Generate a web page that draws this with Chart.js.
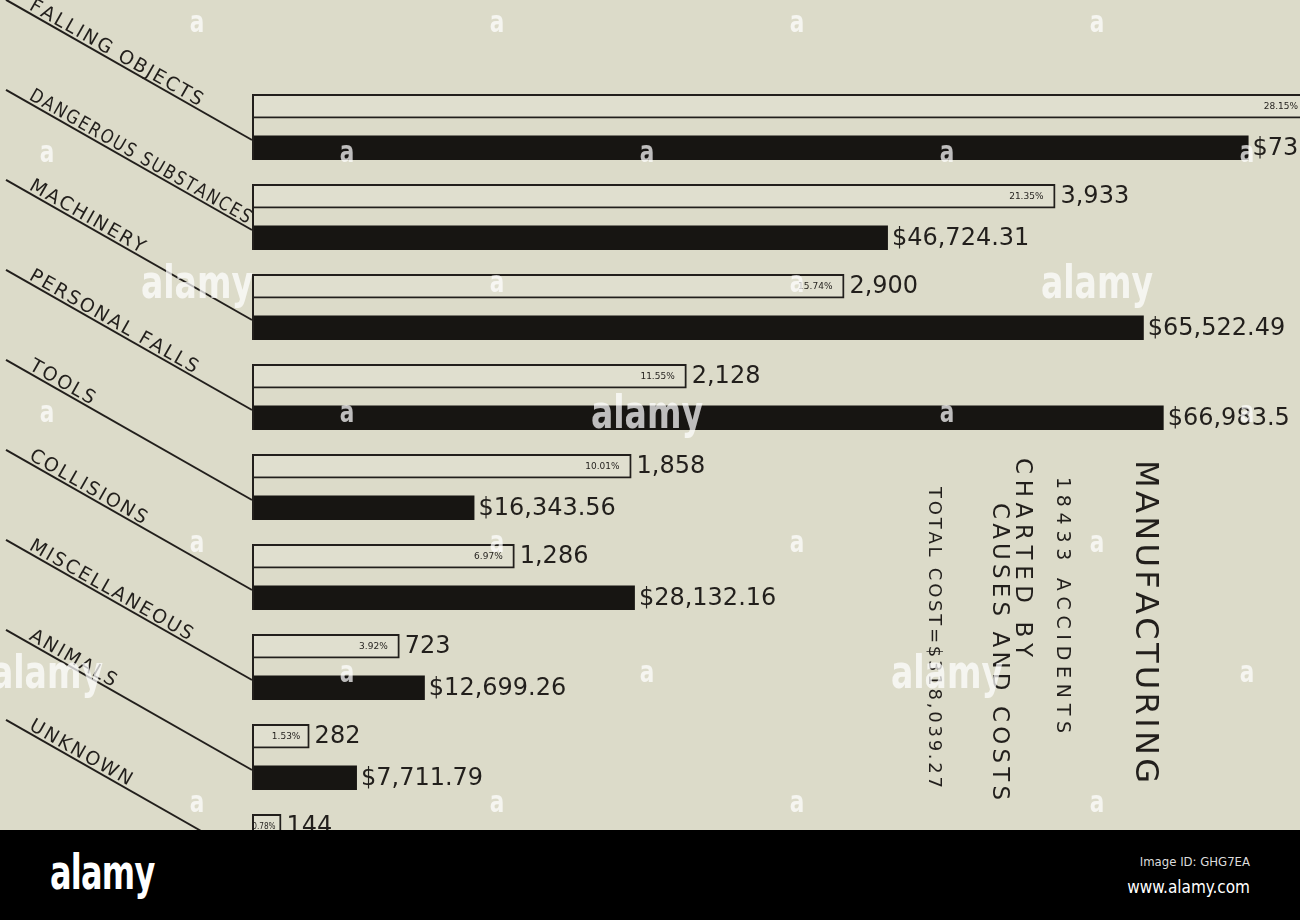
<!DOCTYPE html>
<html>
<head>
<meta charset="utf-8">
<title>Manufacturing accidents by causes and costs</title>
<script src="https://cdn.jsdelivr.net/npm/chart.js@4.4.0/dist/chart.umd.min.js"></script>
<style>
  html, body { margin: 0; padding: 0; background: #dcdbc9; }
  #wrap { position: relative; width: 1300px; height: 920px; overflow: hidden; background: #dcdbc9; }
  #chart { position: absolute; left: 0; top: 0; }
  .wm { position: absolute; color: rgba(255,255,255,0.72); font-family: "DejaVu Sans Condensed", "DejaVu Sans", sans-serif;
        font-weight: bold; line-height: 1; white-space: nowrap; transform: translate(-50%, -50%) scaleX(0.8); }
  #band { position: absolute; left: 0; top: 830px; width: 1300px; height: 90px; background: #000; }
  #logo { position: absolute; left: 50px; top: 14px; color: #fff; font: bold 48px "DejaVu Sans Condensed", "DejaVu Sans", sans-serif;
          transform: scaleX(0.74); transform-origin: left top; letter-spacing: -1px; }
  #imgid { position: absolute; right: 50px; top: 24px; color: #ddd; font: 13px "DejaVu Sans Condensed", "DejaVu Sans", sans-serif; }
  #site { position: absolute; right: 50px; top: 47px; color: #fff; font: 17px "DejaVu Sans Condensed", "DejaVu Sans", sans-serif; }
</style>
</head>
<body>
<div id="wrap">
  <canvas id="chart" width="1300" height="920"></canvas>
  <div id="band">
    <div id="logo">alamy</div>
    <div id="imgid">Image ID: GHG7EA</div>
    <div id="site">www.alamy.com</div>
  </div>
</div>
<script>
var causes = ["FALLING OBJECTS", "DANGEROUS SUBSTANCES", "MACHINERY", "PERSONAL FALLS", "TOOLS",
              "COLLISIONS", "MISCELLANEOUS", "ANIMALS", "UNKNOWN"];
var accidents = [5179, 3933, 2900, 2128, 1858, 1286, 723, 282, 144];
var percents = ["28.15%", "21.35%", "15.74%", "11.55%", "10.01%", "6.97%", "3.92%", "1.53%", "0.78%"];
var costs = [73221.04, 46724.31, 65522.49, 66983.5, 16343.56, 28132.16, 12699.26, 7711.79, 701.16];
var titleLines = ["MANUFACTURING", "18433 ACCIDENTS", "CHARTED BY", "CAUSES AND COSTS", "TOTAL COST=$318,039.27"];

var ink = '#221f1c';

// draw text letter by letter, spreading it to len px (or a fixed gap),
// squeezed sideways if it would run past maxLen
function spaced(ctx, text, x, y, len, gap, maxLen) {
	var widths = [], total = 0;
	for (var k = 0; k < text.length; k++) {
		var wd = ctx.measureText(text[k]).width;
		widths.push(wd);
		total += wd;
	}
	if (len) gap = (len - total) / (text.length - 1);
	var full = total + gap * (text.length - 1);
	ctx.save();
	ctx.translate(x, y);
	if (maxLen && full > maxLen) ctx.scale(maxLen / full, 1);
	var cx = 0;
	for (k = 0; k < text.length; k++) {
		ctx.fillText(text[k], cx, 0);
		cx += widths[k] + gap;
	}
	ctx.restore();
}

var decor = {
	id: 'decor',
	afterDatasetsDraw: function (chart) {
		var ctx = chart.ctx;
		var area = chart.chartArea;
		var white = chart.getDatasetMeta(0).data;
		var black = chart.getDatasetMeta(1).data;
		var yScale = chart.scales.y;
		var slope = 0.57;
		ctx.save();
		ctx.fillStyle = ink;
		ctx.strokeStyle = ink;
		for (var i = 0; i < causes.length; i++) {
			var w = white[i], b = black[i];
			// left edge joining the pair of bars
			ctx.lineWidth = 2;
			ctx.beginPath();
			ctx.moveTo(area.left + 1, w.y - w.height / 2);
			ctx.lineTo(area.left + 1, b.y + b.height / 2);
			ctx.stroke();

			// share of accidents, inside the white bar
			ctx.font = '9px "DejaVu Sans"';
			ctx.textAlign = 'right';
			ctx.textBaseline = 'middle';
			var room = w.x - area.left - 6;
			ctx.fillText(percents[i], w.x - Math.min(12, room * 0.12 + 3), w.y, room);

			// count and cost after the bars
			ctx.font = '24px "DejaVu Sans"';
			ctx.textAlign = 'left';
			ctx.fillText(accidents[i].toLocaleString('en-US'), w.x + 5, w.y + 1);
			ctx.fillText('$' + costs[i].toLocaleString('en-US', {minimumFractionDigits: 1, maximumFractionDigits: 2}), b.x + 4, b.y + 1);

			// slanted leader with the cause written along it
			var yEnd = yScale.getPixelForValue(i) + 13;
			var x0 = 6, y0 = yEnd - slope * (area.left - x0);
			ctx.lineWidth = 2;
			ctx.beginPath();
			ctx.moveTo(x0, y0);
			ctx.lineTo(area.left, yEnd);
			ctx.stroke();
			ctx.save();
			ctx.translate(x0, y0);
			ctx.rotate(Math.atan(slope));
			ctx.font = '19px "DejaVu Sans"';
			ctx.textBaseline = 'alphabetic';
			spaced(ctx, causes[i], 24, -3, null, 2, 252);
			ctx.restore();
		}

		// title written sideways on the right
		var spots = [[1144, 460, 323, 32], [1062, 477, 256, 19], [1022, 458, 199, 23], [999, 503, 297, 23], [934, 487, 301, 18]];
		for (var t = 0; t < titleLines.length; t++) {
			var s = spots[t];
			ctx.save();
			ctx.translate(s[0], s[1]);
			ctx.rotate(Math.PI / 2);
			ctx.font = s[3] + 'px "DejaVu Sans"';
			ctx.textAlign = 'left';
			ctx.textBaseline = 'middle';
			spaced(ctx, titleLines[t], 0, 0, s[2]);
			ctx.restore();
		}
		ctx.restore();
	}
};

var ctx = document.getElementById('chart').getContext('2d');
var myChart = new Chart(ctx, {
	type: 'bar',
	data: {
		labels: causes,
		datasets: [{
			label: 'Accidents',
			data: accidents,
			xAxisID: 'x',
			backgroundColor: 'rgba(255,255,255,0.12)',
			borderColor: ink,
			borderWidth: 2,
			borderSkipped: false
		}, {
			label: 'Cost',
			data: costs,
			xAxisID: 'x2',
			backgroundColor: '#171512',
			borderWidth: 0
		}]
	},
	options: {
		indexAxis: 'y',
		responsive: false,
		animation: false,
		devicePixelRatio: 1,
		categoryPercentage: 0.922,
		barPercentage: 0.59,
		layout: { padding: { left: 252, right: 0, top: 82, bottom: 28 } },
		scales: {
			y: { type: 'category', display: false, offset: true },
			x: { type: 'linear', min: 0, max: 5130, display: false },
			x2: { type: 'linear', axis: 'x', min: 0, max: 77000, display: false }
		},
		plugins: {
			legend: { display: false },
			tooltip: { enabled: false }
		}
	},
	plugins: [decor]
});

// stock-photo watermarks laid over the scan
var wrap = document.getElementById('wrap');
var rows = [22, 152, 282, 412, 542, 672, 802];
var words = { '2_197': 1, '2_1097': 1, '3_647': 1, '5_47': 1, '5_947': 1 };
rows.forEach(function (y, r) {
	var start = r % 2 === 0 ? 197 : 47;
	for (var x = start; x < 1300; x += 300) {
		var d = document.createElement('div');
		d.className = 'wm';
		var big = words[r + '_' + x];
		d.textContent = big ? 'alamy' : 'a';
		d.style.fontSize = big ? '46px' : '30px';
		d.style.left = x + 'px';
		d.style.top = y + 'px';
		wrap.appendChild(d);
	}
});
</script>
</body>
</html>
